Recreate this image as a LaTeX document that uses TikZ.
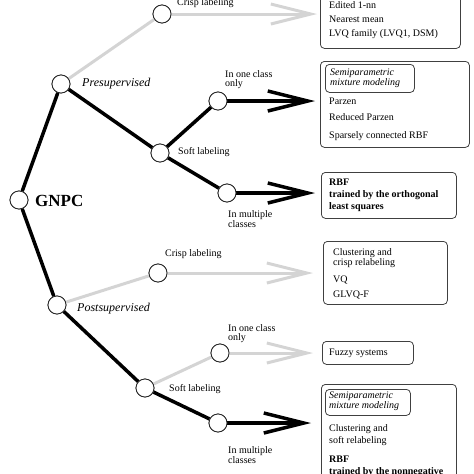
\documentclass[tikz,border=0pt]{standalone}
\usepackage{fontspec}
\setmainfont{Liberation Serif}
\usetikzlibrary{arrows.meta}
\begin{document}
\begin{tikzpicture}[x=1pt,y=-1pt,
  dot/.style={circle, draw=black!85, line width=0.8pt, fill=white, minimum size=18pt, inner sep=0pt},
  blk/.style={line width=3.5pt, black},
  gry/.style={line width=3pt, draw=black!17},
  arr/.style={-{Straight Barb[length=40pt,width=20pt]}},
  box/.style={draw=black!75, line width=0.8pt, rounded corners=4pt, inner sep=0pt, anchor=north west},
  lbl/.style={font=\fontsize{10}{9}\selectfont, inner sep=0pt, anchor=west, align=left},
  itm/.style={font=\fontsize{10}{10}\selectfont, inner sep=0pt, anchor=west, align=left},
  bitm/.style={itm, font=\fontsize{10}{12}\selectfont\bfseries},
  iitm/.style={itm, font=\fontsize{10}{10}\selectfont\itshape},
]
\useasboundingbox (0,0) rectangle (474,474);
\clip (0,0) rectangle (474,474);

% nodes of the tree
\node[dot] (g)   at (19,200) {};
\node[dot] (pre) at (61,84) {};
\node[dot] (pc)  at (162,14) {};
\node[dot] (ps)  at (160,153) {};
\node[dot] (po)  at (218,101) {};
\node[dot] (pm)  at (227,193) {};
\node[dot] (post) at (57,305) {};
\node[dot] (qc)  at (158,273) {};
\node[dot] (qs)  at (145,388) {};
\node[dot] (qo)  at (220,353) {};
\node[dot] (qm)  at (218,423) {};

% arrow end points
\coordinate (tpc) at (317,14);
\coordinate (tpo) at (315,101);
\coordinate (tpm) at (315,193);
\coordinate (tqc) at (313,273);
\coordinate (tqo) at (313,353);
\coordinate (tqm) at (311,423);

% connectors
\draw[blk] (g) -- (pre);
\draw[gry] (pre) -- (pc);
\draw[blk] (pre) -- (ps);
\draw[blk] (ps) -- (po);
\draw[blk] (ps) -- (pm);
\draw[blk] (g) -- (post);
\draw[gry] (post) -- (qc);
\draw[blk] (post) -- (qs);
\draw[gry] (qs) -- (qo);
\draw[blk] (qs) -- (qm);

\draw[gry,arr] (pc) -- (tpc);
\draw[blk,arr] (po) -- (tpo);
\draw[blk,arr] (pm) -- (tpm);
\draw[gry,arr] (qc) -- (tqc);
\draw[gry,arr] (qo) -- (tqo);
\draw[blk,arr] (qm) -- (tqm);

% redraw circles on top
\foreach \n in {g,pre,pc,ps,po,pm,post,qc,qs,qo,qm}
  \node[dot] at (\n) {};

% labels
\node[lbl] (l1) at (177,3) {Crisp labeling};
\node[lbl, font=\fontsize{12}{12}\selectfont\itshape] (l2) at (82,84) {Presupervised};
\node[lbl] (l3) at (225,80) {In one class\\only};
\node[lbl] (l4) at (178,152) {Soft labeling};
\node[lbl, font=\fontsize{17}{17}\selectfont\bfseries] (l5) at (35,201) {GNPC};
\node[lbl] (l6) at (228,219) {In multiple\\classes};
\node[lbl] (l7) at (165,254) {Crisp labeling};
\node[lbl, font=\fontsize{12}{12}\selectfont\itshape] (l8) at (77,309) {Postsupervised};
\node[lbl] (l9) at (228,334) {In one class\\only};
\node[lbl] (l10) at (169,389) {Soft labeling};
\node[lbl] (l11) at (228,455) {In multiple\\classes};

% boxes
\node[box, minimum width=140pt, minimum height=58pt] (b1) at (320,-10) {};
\node[itm] (b1a) at (329,5) {Edited 1-nn};
\node[itm] (b1b) at (329,19) {Nearest mean};
\node[itm] (b1c) at (329,34) {LVQ family (LVQ1, DSM)};

\node[box, minimum width=149pt, minimum height=86pt] (b2) at (320,61) {};
\node[box, minimum width=89pt, minimum height=28pt] (b2i) at (325,64) {};
\node[iitm] (b2a) at (330,78.5) {Semiparametric\\mixture modeling};
\node[itm] (b2b) at (329,101) {Parzen};
\node[itm] (b2c) at (329,117) {Reduced Parzen};
\node[itm] (b2d) at (329,136) {Sparsely connected RBF};

\node[box, minimum width=135pt, minimum height=46pt] (b3) at (321,172) {};
\node[bitm] (b3a) at (329,195) {RBF\\trained by the orthogonal\\least squares};

\node[box, minimum width=124pt, minimum height=63pt] (b4) at (323,241) {};
\node[itm, font=\fontsize{10}{9}\selectfont] (b4a) at (333,258.5) {Clustering and\\crisp relabeling};
\node[itm] (b4b) at (333,280) {VQ};
\node[itm] (b4c) at (333,295) {GLVQ-F};

\node[box, minimum width=91pt, minimum height=23pt] (b5) at (322,341) {};
\node[itm] (b5a) at (329,353) {Fuzzy systems};

\node[box, minimum width=135pt, minimum height=110pt] (b6) at (321,384) {};
\node[box, minimum width=85pt, minimum height=26pt] (b6i) at (325,389) {};
\node[iitm, font=\fontsize{10}{9}\selectfont\itshape] (b6a) at (329,401.5) {Semiparametric\\mixture modeling};
\node[itm, font=\fontsize{10}{12}\selectfont] (b6b) at (329,435) {Clustering and\\soft relabeling};
\node[bitm] (b6c) at (329,466.5) {RBF\\trained by the nonnegative};
\end{tikzpicture}
\end{document}
